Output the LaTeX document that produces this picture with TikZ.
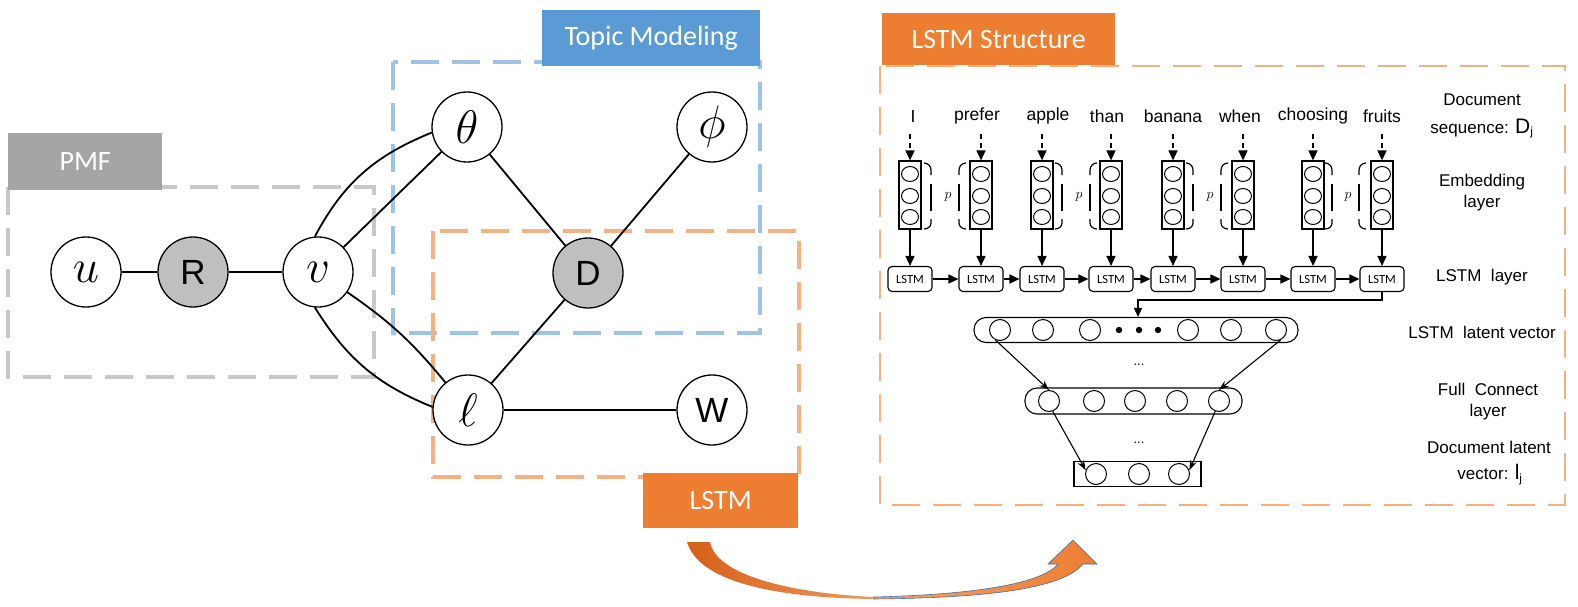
\RequirePackage{fix-cm}
\documentclass[tikz,border=0pt]{standalone}
\usepackage{fontspec}
\setmainfont{Liberation Sans}
\newfontfamily\calfont{Carlito}
\usetikzlibrary{arrows.meta,shapes.geometric,calc}
\definecolor{pmfgray}{RGB}{165,165,165}
\definecolor{pmfdash}{RGB}{200,200,200}
\definecolor{tmblue}{RGB}{91,155,213}
\definecolor{tmdash}{RGB}{157,195,230}
\definecolor{lorange}{RGB}{237,125,49}
\definecolor{ldash}{RGB}{244,177,131}
\definecolor{nodegray}{RGB}{191,191,191}
\definecolor{darkorange}{RGB}{214,96,24}
\definecolor{arrowblue}{RGB}{68,114,160}
\begin{document}
\begin{tikzpicture}[x=1pt,y=-1pt,
  var/.style={circle,draw,line width=1.3pt,minimum size=70pt,inner sep=0pt,fill=white},
  obs/.style={var,fill=nodegray},
  mathlbl/.style={font=\fontsize{47}{47}\selectfont},
  sanslbl/.style={font=\fontsize{35}{35}\selectfont},
  edge/.style={line width=1.8pt},
  grp/.style={line width=3.2pt,dash pattern=on 28pt off 13pt},
  tag/.style={fill=#1,text=white,inner sep=0pt,anchor=north west,font=\calfont\fontsize{28}{30}\selectfont},
  embbox/.style={draw,line width=1.2pt,minimum width=22pt,minimum height=68pt,inner sep=0pt},
  emb/.style={ellipse,draw,line width=1pt,minimum width=17pt,minimum height=15pt,inner sep=0pt},
  lstm/.style={draw,line width=1.1pt,rounded corners=4pt,minimum width=44pt,minimum height=25pt,inner sep=0pt,font=\calfont\fontsize{12.5}{13}\selectfont},
  word/.style={inner sep=1pt,font=\fontsize{17.5}{17.5}\selectfont},
  side/.style={align=center,font=\fontsize{17}{21}\selectfont},
  bigarr/.style={line width=1.5pt,-{Triangle[length=10pt,width=9pt]}},
  dasharr/.style={line width=1.5pt,dash pattern=on 5pt off 4pt,-{Triangle[length=10pt,width=9pt]}},
  thinarr/.style={line width=1.1pt,-{Stealth[length=10pt,width=7pt]}},
  unit/.style={circle,draw,line width=1pt,minimum size=21pt,inner sep=0pt},
  brk/.style={line width=1.2pt},
  pill/.style={draw,line width=1.1pt,rounded corners=12pt,inner sep=0pt}
]
\useasboundingbox (0,0) rectangle (1578,607);

% ---------------- group boxes ----------------
\draw[grp,pmfdash] (8,187) rectangle (374,377);
\draw[grp,tmdash] (393,62) rectangle (760,333);
\draw[grp,ldash] (433,231) rectangle (799,477);
\node[tag=pmfgray,minimum width=154pt,minimum height=57pt] (pmf) at (8,133) {PMF};
\node[tag=tmblue,minimum width=218pt,minimum height=56pt] (tm) at (542,10) {Topic Modeling};
\node[tag=lorange,minimum width=155pt,minimum height=55pt] (lstmtag) at (643,473) {LSTM};

% ---------------- graph ----------------
\node[var,mathlbl] (u) at (86,272) {$u$};
\node[obs,sanslbl] (R) at (193,272) {R};
\node[var,mathlbl] (v) at (318,272) {$v$};
\node[var,mathlbl] (theta) at (467,127) {$\theta$};
\node[var,mathlbl] (phi) at (712,127) {$\phi$};
\node[obs,sanslbl] (D) at (588,273) {D};
\node[var,mathlbl] (ell) at (468,410) {$\ell$};
\node[var,sanslbl] (W) at (712,410) {W};

\draw[edge] (u) -- (R);
\draw[edge] (R) -- (v);
\draw[edge] (v) -- (theta);
\draw[edge] (v.95) to[out=62,in=202] (theta.189);
\draw[edge] (v) to[bend left=8] (ell);
\draw[edge] (v.265) to[out=-58,in=158] (ell.175);
\draw[edge] (theta) -- (D);
\draw[edge] (phi) -- (D);
\draw[edge] (D) -- (ell);
\draw[edge] (ell) -- (W);

% ---------------- curved arrow ----------------
\path[left color=darkorange,right color=lorange,middle color=lorange!75!white,shading angle=90]
  (687,542) .. controls (700,586) and (790,598) .. (873,599)
  .. controls (980,598) and (1062,590) .. (1083,564)
  -- (1097,564) -- (1073,540) -- (1048,564) -- (1058,564)
  .. controls (1040,586) and (960,595) .. (873,597)
  .. controls (790,593) and (716,575) .. (710,542) -- cycle;
\draw[arrowblue,line width=0.6pt] (873,599)
  .. controls (980,598) and (1062,590) .. (1083,564)
  -- (1097,564) -- (1073,540) -- (1048,564) -- (1058,564)
  .. controls (1040,586) and (960,595) .. (873,597);

% ---------------- LSTM structure panel ----------------
\draw[grp,ldash,line width=2.8pt] (880,66) rectangle (1565,505);
\node[tag=lorange,minimum width=233pt,minimum height=52pt] (lstmstruct) at (882,13) {LSTM Structure};

% words
\node[word] (w1) at (913,116) {I};
\node[word] (w2) at (977,116) {prefer};
\node[word] (w3) at (1048,116) {apple};
\node[word] (w4) at (1107,116) {than};
\node[word] (w5) at (1173,116) {banana};
\node[word] (w6) at (1240,116) {when};
\node[word] (w7) at (1313,116) {choosing};
\node[word] (w8) at (1382,116) {fruits};

\foreach \i/\cx in {1/910,2/981,3/1042,4/1111,5/1173,6/1243,7/1313,8/1382}{
  \node[embbox] (E\i) at (\cx,195) {};
  \node[emb] (E\i a) at (\cx,174) {};
  \node[emb] (E\i b) at (\cx,196) {};
  \node[emb] (E\i c) at (\cx,217) {};
  \node[lstm] (L\i) at (\cx,279) {LSTM};
  \draw[dasharr] (E\i.north |- 0,134) -- (E\i.north);
  \draw[bigarr] (E\i.south) -- (L\i.north);
}
% brackets right of odd columns
\foreach \bx in {931,1062,1193,1332}{
  \draw[brk] (\bx-7,163) to[out=0,in=90] (\bx,170) -- (\bx,175);
  \draw[brk] (\bx,184) -- (\bx,211);
  \draw[brk] (\bx,219) -- (\bx,223) to[out=-90,in=0] (\bx-7,229);
}
% brackets left of even columns with p
\foreach \bx in {959,1090,1221,1359}{
  \draw[brk] (\bx+7,163) to[out=180,in=90] (\bx,170) -- (\bx,175);
  \draw[brk] (\bx,184) -- (\bx,211);
  \draw[brk] (\bx,219) -- (\bx,223) to[out=-90,in=180] (\bx+7,229);
  \node[font=\fontsize{14}{14}\selectfont] at (\bx-11,197) {$p$};
}
\foreach \i [evaluate=\i as \j using int(\i+1)] in {1,...,7}{
  \draw[bigarr] (L\i.east) -- (L\j.west);
}

% latent vector
\node[pill,minimum width=324pt,minimum height=25pt] (lat) at (1136,330) {};
\foreach \n/\cx in {1/1000,2/1043,3/1090,5/1188,6/1231,7/1276}{
  \node[unit] (a\n) at (\cx,330) {};
}
\foreach \cx in {1119,1139,1158}{
  \fill (\cx,330) circle (3.2pt);
}
\coordinate (turn) at (1138,300);
\draw[line width=1.5pt,-{Triangle[length=9pt,width=8pt]}] (L8.south) |- (turn) -- (turn |- lat.north);

% full connect layer
\node[pill,minimum width=217pt,minimum height=26pt] (fc) at (1133.5,401) {};
\foreach \n/\cx in {1/1049,2/1094,3/1135,4/1177,5/1219}{
  \node[unit] (f\n) at (\cx,401) {};
}
% document latent vector
\node[draw,line width=1.1pt,minimum width=127pt,minimum height=25pt,inner sep=0pt] (doc) at (1137.5,474) {};
\foreach \n/\cx in {1/1096,2/1139,3/1179}{
  \node[unit] (d\n) at (\cx,474) {};
}
\node[font=\fontsize{13}{13}\selectfont] (dots1) at (1139,365) {...};
\node[font=\fontsize{13}{13}\selectfont] (dots2) at (1139,443) {...};

\draw[thinarr] (a1.245) -- (f1.north);
\draw[thinarr] (a7.295) -- (f5.north);
\draw[thinarr] (f1.290) -- (d1.160);
\draw[thinarr] (f5.250) -- (d3.20);

% side labels
\node[side,font=\fontsize{17}{28}\selectfont] (lab1) at (1482,116) {Document\\sequence: {\fontsize{21}{21}\selectfont D}\textsubscript{j}};
\node[side] (lab2) at (1482,193) {Embedding\\layer};
\node[side] (lab3) at (1482,277) {LSTM\ \ layer};
\node[side] (lab4) at (1482,332) {LSTM\ \ latent vector};
\node[side] (lab5) at (1488,402) {Full\ \ Connect\\layer};
\node[side] (lab6) at (1489,447) {Document latent};
\node[side] (lab7) at (1490,475) {vector: {\fontsize{21}{21}\selectfont l}\textsubscript{j}};
\end{tikzpicture}
\end{document}
